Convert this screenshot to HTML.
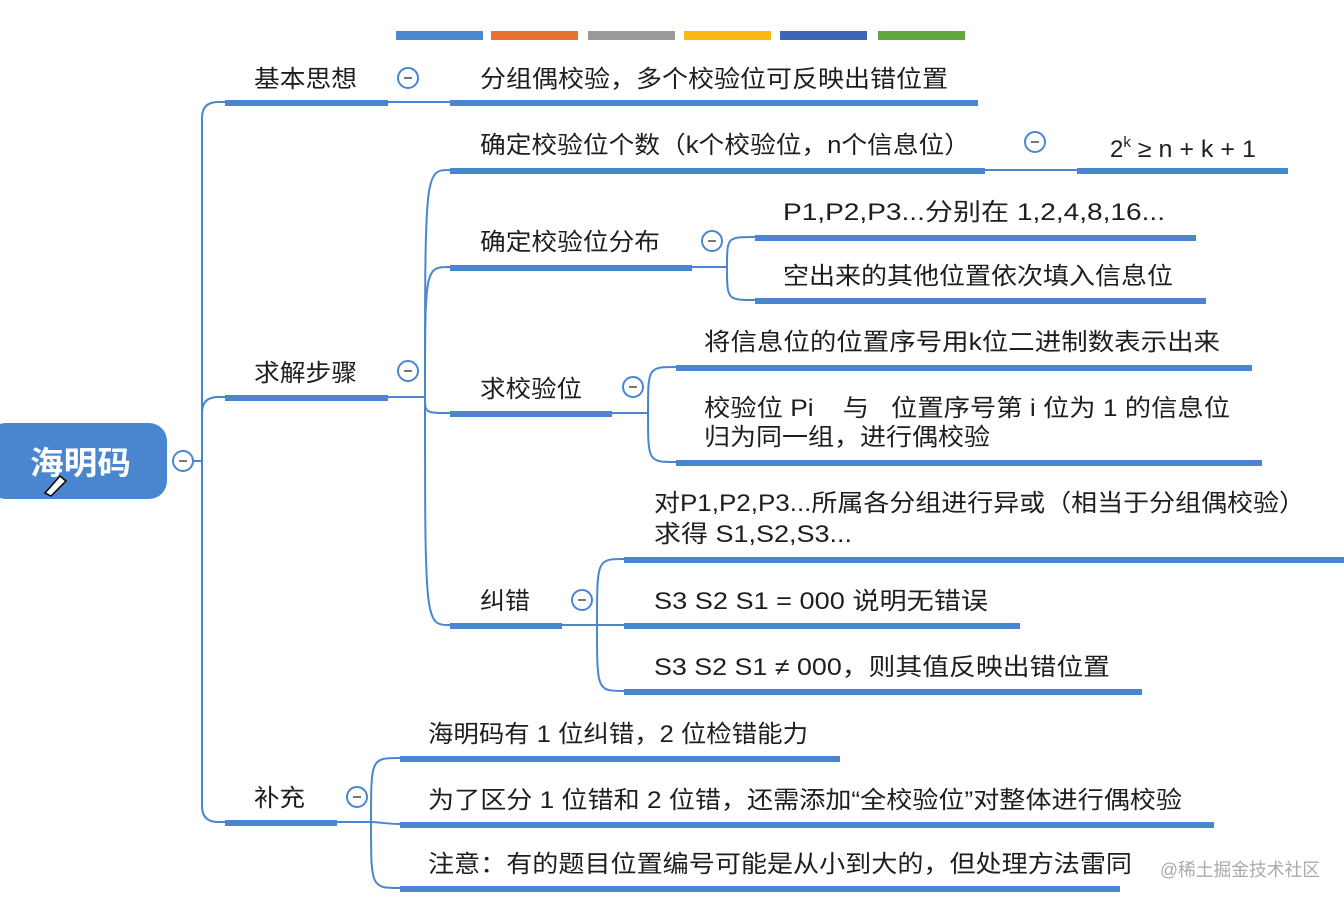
<!DOCTYPE html>
<html><head><meta charset="utf-8"><style>
html,body{margin:0;padding:0;background:#fff;}
svg{display:block;}
text{font-family:"Liberation Sans","Noto Sans CJK SC",sans-serif;font-size:24px;fill:#1e1e1e;}
</style></head><body>
<svg width="1344" height="904" viewBox="0 0 1344 904" xmlns="http://www.w3.org/2000/svg">
<g>
<rect x="396" y="31" width="87" height="9" fill="#4a88d0"/>
<rect x="491" y="31" width="87" height="9" fill="#e8712e"/>
<rect x="588" y="31" width="87" height="9" fill="#9a9a9a"/>
<rect x="684" y="31" width="87" height="9" fill="#fdb912"/>
<rect x="780" y="31" width="87" height="9" fill="#3c66b8"/>
<rect x="878" y="31" width="87" height="9" fill="#62a83f"/>
</g>
<g fill="none" stroke="#4a86d0" stroke-width="2">
<path d="M193,461 H202"/>
<path d="M202,461 V118 Q202,102 218,102 H225"/>
<path d="M202,461 V413 Q202,397 218,397 H225"/>
<path d="M202,461 V806 Q202,822 218,822 H225"/>
<path d="M388,102 H450"/>
<path d="M388,397 H425"/>
<path d="M425,397 C425,170 425,170 450,170"/>
<path d="M425,397 C425,267 425,267 450,267"/>
<path d="M425,397 C425,413 425,413 450,413"/>
<path d="M425,397 C425,625 425,625 450,625"/>
<path d="M985,170 H1077"/>
<path d="M692,267 H727"/>
<path d="M727,267 C727,237 727,237 755,237"/>
<path d="M727,267 C727,300 727,300 755,300"/>
<path d="M612,413 H648"/>
<path d="M648,413 C648,367 648,367 676,367"/>
<path d="M648,413 C648,462 648,462 676,462"/>
<path d="M562,625 H597"/>
<path d="M597,625 C597,559 597,559 624,559"/>
<path d="M597,625 H624"/>
<path d="M597,625 C597,691 597,691 624,691"/>
<path d="M337,822 H371"/>
<path d="M371,822 C371,758 371,758 400,758"/>
<path d="M371,822 C380,822 385,824 400,824"/>
<path d="M371,822 C371,888 371,888 400,888"/>
</g>
<g fill="#4a86d0">
<rect x="225" y="100" width="163" height="6"/>
<rect x="450" y="100" width="528" height="6"/>
<rect x="225" y="395" width="163" height="6"/>
<rect x="450" y="168" width="535" height="6"/>
<rect x="1077" y="168" width="211" height="6"/>
<rect x="450" y="265" width="242" height="6"/>
<rect x="755" y="235" width="441" height="6"/>
<rect x="755" y="298" width="451" height="6"/>
<rect x="450" y="411" width="162" height="6"/>
<rect x="676" y="365" width="576" height="6"/>
<rect x="676" y="460" width="586" height="6"/>
<rect x="450" y="623" width="112" height="6"/>
<rect x="624" y="557" width="720" height="6"/>
<rect x="624" y="623" width="396" height="6"/>
<rect x="624" y="689" width="518" height="6"/>
<rect x="225" y="820" width="112" height="6"/>
<rect x="400" y="756" width="440" height="6"/>
<rect x="400" y="822" width="814" height="6"/>
<rect x="400" y="886" width="720" height="6"/>
</g>
<rect x="-12" y="423" width="179" height="76" rx="18" fill="#4a86d0"/>
<text x="30" y="474" textLength="101" lengthAdjust="spacingAndGlyphs" style="font-size:32px;fill:#fff;font-weight:bold">海明码</text>
<path d="M45,493 L60,476 L66,481 L51,496 Z" fill="#fff" stroke="#000" stroke-width="1.5"/>
<g fill="#fff" stroke="#4a86d0" stroke-width="2">
<circle cx="183" cy="461" r="10"/>
<circle cx="408" cy="78" r="10"/>
<circle cx="408" cy="371" r="10"/>
<circle cx="1035" cy="142" r="10"/>
<circle cx="712" cy="241" r="10"/>
<circle cx="633" cy="387" r="10"/>
<circle cx="582" cy="600" r="10"/>
<circle cx="357" cy="797" r="10"/>
</g>
<g stroke="#777" stroke-width="2">
<path d="M179,461 H187"/><path d="M404,78 H412"/><path d="M404,371 H412"/>
<path d="M1031,142 H1039"/><path d="M708,241 H716"/><path d="M629,387 H637"/>
<path d="M578,600 H586"/><path d="M353,797 H361"/>
</g>
<g lengthAdjust="spacingAndGlyphs">
<text x="254" y="87" textLength="103" lengthAdjust="spacingAndGlyphs">基本思想</text>
<text x="480" y="87" textLength="468" lengthAdjust="spacingAndGlyphs">分组偶校验，多个校验位可反映出错位置</text>
<text x="254" y="381" textLength="103" lengthAdjust="spacingAndGlyphs">求解步骤</text>
<text x="480" y="153" textLength="490" lengthAdjust="spacingAndGlyphs">确定校验位个数（k个校验位，n个信息位）</text>
<text x="1110" y="157">2<tspan dy="-10" style="font-size:15px">k</tspan><tspan dy="10" textLength="125" lengthAdjust="spacingAndGlyphs"> ≥ n + k + 1</tspan></text>
<text x="480" y="250" textLength="180" lengthAdjust="spacingAndGlyphs">确定校验位分布</text>
<text x="783" y="220" textLength="382" lengthAdjust="spacingAndGlyphs">P1,P2,P3...分别在 1,2,4,8,16...</text>
<text x="783" y="284" textLength="390" lengthAdjust="spacingAndGlyphs">空出来的其他位置依次填入信息位</text>
<text x="480" y="397" textLength="102" lengthAdjust="spacingAndGlyphs">求校验位</text>
<text x="704" y="350" textLength="516" lengthAdjust="spacingAndGlyphs">将信息位的位置序号用k位二进制数表示出来</text>
<text x="704" y="416" xml:space="preserve" textLength="526" lengthAdjust="spacingAndGlyphs">校验位 Pi    与   位置序号第 i 位为 1 的信息位</text>
<text x="704" y="445" textLength="286" lengthAdjust="spacingAndGlyphs">归为同一组，进行偶校验</text>
<text x="480" y="609" textLength="50" lengthAdjust="spacingAndGlyphs">纠错</text>
<text x="654" y="511" textLength="651" lengthAdjust="spacingAndGlyphs">对P1,P2,P3...所属各分组进行异或（相当于分组偶校验）</text>
<text x="654" y="542" textLength="198" lengthAdjust="spacingAndGlyphs">求得 S1,S2,S3...</text>
<text x="654" y="609" textLength="334" lengthAdjust="spacingAndGlyphs">S3 S2 S1 = 000 说明无错误</text>
<text x="654" y="675" textLength="456" lengthAdjust="spacingAndGlyphs">S3 S2 S1 ≠ 000，则其值反映出错位置</text>
<text x="254" y="806" textLength="51" lengthAdjust="spacingAndGlyphs">补充</text>
<text x="428" y="742" textLength="380" lengthAdjust="spacingAndGlyphs">海明码有 1 位纠错，2 位检错能力</text>
<text x="428" y="808" textLength="754" lengthAdjust="spacingAndGlyphs">为了区分 1 位错和 2 位错，还需添加“全校验位”对整体进行偶校验</text>
<text x="428" y="872" textLength="704" lengthAdjust="spacingAndGlyphs">注意：有的题目位置编号可能是从小到大的，但处理方法雷同</text>
</g>
<text x="1160" y="876" textLength="160" lengthAdjust="spacingAndGlyphs" style="font-size:18px;fill:#aaa">@稀土掘金技术社区</text>
</svg>
</body></html>
